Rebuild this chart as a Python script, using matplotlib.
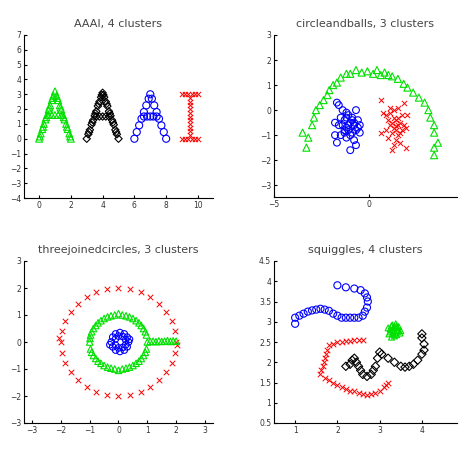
import matplotlib
matplotlib.use("Agg")
import matplotlib.pyplot as plt

# ---- AAAI ----
aaai_green_x = [0.0,0.1,0.2,0.3,0.4,0.5,0.6,0.7,0.8,0.9,1.0,1.1,1.2,1.3,1.4,1.5,1.6,1.7,1.8,1.9,2.0,0.6,0.8,1.0,1.2,1.4,0.05,0.25,0.45,0.65,0.85,1.15,1.35,1.55,1.75,1.95]
aaai_green_y = [0.0,0.35,0.65,1.0,1.3,1.6,1.95,2.25,2.6,2.9,3.2,2.9,2.6,2.25,1.95,1.6,1.3,1.0,0.65,0.35,0.0,1.6,1.6,1.6,1.6,1.6,0.15,0.8,1.45,2.1,2.75,2.75,2.1,1.45,0.8,0.15]
aaai_black_x = [3.0,3.1,3.2,3.3,3.4,3.5,3.6,3.7,3.8,3.9,4.0,4.1,4.2,4.3,4.4,4.5,4.6,4.7,4.8,4.9,5.0,3.6,3.8,4.0,4.2,4.4,3.15,3.35,3.55,3.75,3.95,4.05,4.25,4.45,4.65,4.85]
aaai_black_y = [0.0,0.3,0.6,0.95,1.25,1.55,1.85,2.2,2.5,2.8,3.1,2.8,2.5,2.2,1.85,1.55,1.25,0.95,0.6,0.3,0.0,1.5,1.5,1.5,1.5,1.5,0.45,1.1,1.7,2.35,2.95,2.95,2.35,1.7,1.1,0.45]
aaai_blue_x = [6.0,6.15,6.3,6.45,6.6,6.75,6.9,7.0,7.1,7.25,7.4,7.55,7.7,7.85,8.0,6.6,6.8,7.0,7.2,7.4]
aaai_blue_y = [0.0,0.45,0.9,1.35,1.8,2.25,2.7,3.0,2.7,2.25,1.8,1.35,0.9,0.45,0.0,1.5,1.5,1.5,1.5,1.5]
aaai_red_x = [9.0,9.2,9.4,9.6,9.8,10.0,9.0,9.2,9.4,9.6,9.8,10.0,9.5,9.5,9.5,9.5,9.5,9.5,9.5,9.5,9.5,9.5,9.5]
aaai_red_y = [3.0,3.0,3.0,3.0,3.0,3.0,0.0,0.0,0.0,0.0,0.0,0.0,0.25,0.5,0.75,1.0,1.25,1.5,1.75,2.0,2.25,2.5,2.75]

# ---- circleandballs ----
cb_green_x = [-3.3,-3.5,-3.2,-3.0,-2.9,-2.8,-2.6,-2.4,-2.2,-2.1,-1.9,-1.7,-1.5,-1.2,-1.0,-0.7,-0.4,-0.1,0.2,0.4,0.6,0.8,1.0,1.2,1.5,1.8,2.0,2.3,2.6,2.9,3.1,3.2,3.4,3.4,3.6,3.4,3.4]
cb_green_y = [-1.5,-0.9,-1.1,-0.6,-0.3,0.0,0.2,0.4,0.6,0.8,1.0,1.1,1.3,1.45,1.45,1.6,1.5,1.55,1.45,1.6,1.4,1.5,1.4,1.35,1.25,1.05,0.9,0.7,0.5,0.3,0.0,-0.3,-0.6,-0.9,-1.3,-1.5,-1.8]
cb_blue_x = [-1.7,-1.6,-1.4,-1.2,-0.7,-1.8,-1.5,-1.3,-1.1,-0.9,-0.8,-0.6,-1.4,-1.2,-1.0,-0.8,-0.6,-0.5,-1.6,-1.3,-1.1,-0.9,-0.7,-1.5,-1.2,-1.0,-0.8,-1.8,-1.1,-0.9,-1.7,-0.7,-1.0,-1.3,-0.5,-1.2]
cb_blue_y = [0.3,0.2,0.0,-0.1,0.0,-0.5,-0.3,-0.4,-0.2,-0.3,-0.5,-0.4,-0.6,-0.7,-0.5,-0.6,-0.7,-0.6,-0.6,-0.9,-0.8,-0.9,-0.8,-1.0,-1.1,-1.0,-1.2,-1.0,-0.6,-0.4,-1.3,-1.4,-1.6,-0.8,-0.9,-0.3]
cb_red_x = [0.6,1.5,1.3,1.8,2.0,0.7,0.9,1.1,1.3,1.0,1.2,1.4,1.6,1.8,1.1,1.3,1.5,1.7,1.9,0.9,1.2,1.4,1.6,0.6,1.0,1.5,1.4,1.6,1.3,1.9,1.2,1.5,1.7,1.1,1.4]
cb_red_y = [0.4,0.1,0.0,0.3,-0.2,-0.1,-0.2,-0.1,-0.3,-0.4,-0.5,-0.4,-0.5,-0.6,-0.6,-0.7,-0.6,-0.8,-0.7,-0.8,-0.9,-0.8,-0.9,-0.9,-1.1,-1.0,-1.2,-1.3,-1.4,-1.5,-1.6,-0.3,-0.2,0.1,-0.65]

# ---- threejoinedcircles ----
tj_red_x = [2.0,1.96,1.85,1.66,1.41,1.11,0.77,0.39,0.0,-0.39,-0.77,-1.11,-1.41,-1.66,-1.85,-1.96,-2.0,-1.96,-1.85,-1.66,-1.41,-1.11,-0.77,-0.39,0.0,0.39,0.77,1.11,1.41,1.66,1.85,1.96,-2.05,2.02]
tj_red_y = [0.0,0.39,0.77,1.11,1.41,1.66,1.85,1.96,2.0,1.96,1.85,1.66,1.41,1.11,0.77,0.39,0.0,-0.39,-0.77,-1.11,-1.41,-1.66,-1.85,-1.96,-2.0,-1.96,-1.85,-1.66,-1.41,-1.11,-0.77,-0.39,0.15,-0.1]
tj_green_x = [1.0,0.97,0.87,0.71,0.5,0.26,0.0,-0.26,-0.5,-0.71,-0.87,-0.97,-1.0,-0.97,-0.87,-0.71,-0.5,-0.26,0.0,0.26,0.5,0.71,0.87,0.97,0.93,0.79,0.61,0.38,0.13,-0.13,-0.38,-0.61,-0.79,-0.93,-0.99,-0.93,-0.79,-0.61,-0.38,-0.13,0.13,0.38,0.61,0.79,0.93,1.1,1.2,1.3,1.4,1.5,1.6,1.7,1.8,1.9,2.0]
tj_green_y = [0.0,0.26,0.5,0.71,0.87,0.97,1.05,0.97,0.87,0.71,0.5,0.26,0.0,-0.26,-0.5,-0.71,-0.87,-0.97,-1.05,-0.97,-0.87,-0.71,-0.5,-0.26,0.38,0.61,0.79,0.93,1.0,1.0,0.93,0.79,0.61,0.38,0.13,-0.38,-0.61,-0.79,-0.93,-1.0,-1.0,-0.93,-0.79,-0.61,-0.38,0.02,0.03,0.01,0.04,0.02,0.03,0.05,0.02,0.04,0.03]
tj_blue_x = [0.35,0.3,0.2,0.05,-0.1,-0.2,-0.25,-0.2,-0.1,0.05,0.2,0.3,0.25,0.15,0.0,-0.1,-0.1,0.0,0.15,0.25,0.38,-0.3]
tj_blue_y = [0.0,0.18,0.3,0.35,0.3,0.18,0.0,-0.18,-0.3,-0.35,-0.3,-0.18,0.08,0.2,0.22,0.12,-0.12,-0.22,-0.2,-0.1,0.1,-0.1]

# ---- squiggles ----
sq_blue_x = [1.0,1.0,1.1,1.2,1.3,1.4,1.5,1.6,1.7,1.8,1.9,2.0,2.1,2.2,2.3,2.4,2.5,2.6,2.65,2.7,2.72,2.7,2.65,2.55,2.4,2.2,2.0]
sq_blue_y = [2.95,3.1,3.15,3.2,3.25,3.28,3.3,3.32,3.3,3.27,3.2,3.15,3.1,3.1,3.1,3.1,3.1,3.15,3.25,3.35,3.5,3.6,3.7,3.78,3.82,3.85,3.9]
sq_red_x = [2.6,2.5,2.4,2.3,2.2,2.1,2.0,1.9,1.8,1.75,1.72,1.7,1.68,1.65,1.62,1.6,1.7,1.8,1.9,2.0,2.1,2.2,2.3,2.4,2.5,2.6,2.7,2.8,2.9,3.0,3.1,3.15,3.2]
sq_red_y = [2.55,2.55,2.55,2.53,2.52,2.5,2.5,2.45,2.42,2.3,2.2,2.1,2.0,1.9,1.8,1.7,1.6,1.55,1.5,1.45,1.4,1.35,1.3,1.28,1.25,1.22,1.2,1.22,1.25,1.3,1.38,1.45,1.5]
sq_black_x = [2.2,2.3,2.35,2.4,2.45,2.5,2.55,2.6,2.7,2.8,2.85,2.9,2.95,3.0,3.05,3.2,3.35,3.5,3.6,3.7,3.8,3.9,4.0,4.05,4.05,4.0,4.0]
sq_black_y = [1.9,1.95,2.05,2.1,2.0,1.9,1.8,1.7,1.65,1.7,1.8,1.9,2.1,2.25,2.2,2.1,2.0,1.9,1.88,1.9,1.95,2.05,2.2,2.3,2.45,2.6,2.7]
sq_green_x = [3.3,3.35,3.4,3.25,3.45,3.3,3.38,3.42,3.2,3.28,3.5,3.35,3.4,3.22,3.32,3.45,3.3,3.37,3.25,3.48,3.33,3.4,3.28]
sq_green_y = [2.8,2.85,2.9,2.75,2.8,2.7,2.95,2.75,2.85,2.9,2.78,2.65,2.85,2.7,2.78,2.88,2.92,2.72,2.82,2.72,2.86,2.68,2.62]

GREEN, BLUE, RED, BLACK = "#00e000", "#0000ff", "#ff0000", "#000000"
TXT = "#333333"

fig = plt.figure(figsize=(4.74, 4.55), dpi=100)

def setup(ax, title, xlim, ylim, xt, yt, ytl=None):
    ax.set_xlim(*xlim); ax.set_ylim(*ylim)
    ax.set_xticks(xt); ax.set_yticks(yt)
    if ytl is not None:
        ax.set_yticklabels(ytl)
    ax.set_title(title, fontsize=8, color="#444444", pad=6)
    for s in ("top", "right"):
        ax.spines[s].set_visible(False)
    for s in ("left", "bottom"):
        ax.spines[s].set_linewidth(0.8)
    ax.tick_params(direction="in", length=2, labelsize=5.5, labelcolor=TXT, pad=2)

def hollow(ax, x, y, m, c, s=22):
    if m == "x":
        ax.scatter(x, y, marker="x", c=c, s=s, linewidths=0.7)
    else:
        ax.scatter(x, y, marker=m, facecolors="none", edgecolors=c, s=s, linewidths=0.8)

ax1 = fig.add_axes([24/474, 1-198/455, 189/474, 163/455])
hollow(ax1, aaai_green_x, aaai_green_y, "^", GREEN, 24)
hollow(ax1, aaai_black_x, aaai_black_y, "D", BLACK, 14)
hollow(ax1, aaai_blue_x, aaai_blue_y, "o", BLUE, 26)
hollow(ax1, aaai_red_x, aaai_red_y, "x", RED, 14)
setup(ax1, "AAAI, 4 clusters", (-0.95, 10.95), (-4, 7), [0, 2, 4, 6, 8, 10], list(range(-4, 8)))

ax2 = fig.add_axes([274/474, 1-197/455, 183/474, 162/455])
hollow(ax2, cb_green_x, cb_green_y, "^", GREEN, 26)
hollow(ax2, cb_blue_x, cb_blue_y, "o", BLUE, 24)
hollow(ax2, cb_red_x, cb_red_y, "x", RED, 14)
setup(ax2, "circleandballs, 3 clusters", (-5, 4.6), (-3.47, 3), [-5, 0], list(range(-3, 4)))

ax3 = fig.add_axes([24/474, 1-423/455, 189/474, 162/455])
hollow(ax3, tj_red_x, tj_red_y, "x", RED, 16)
hollow(ax3, tj_green_x, tj_green_y, "^", GREEN, 22)
hollow(ax3, tj_blue_x, tj_blue_y, "o", BLUE, 22)
setup(ax3, "threejoinedcircles, 3 clusters", (-3.28, 3.28), (-3, 3), list(range(-3, 4)), list(range(-3, 4)))

ax4 = fig.add_axes([274/474, 1-423/455, 183/474, 162/455])
hollow(ax4, sq_blue_x, sq_blue_y, "o", BLUE, 26)
hollow(ax4, sq_red_x, sq_red_y, "x", RED, 16)
hollow(ax4, sq_black_x, sq_black_y, "D", BLACK, 18)
hollow(ax4, sq_green_x, sq_green_y, "^", GREEN, 18)
setup(ax4, "squiggles, 4 clusters", (0.5, 4.83), (0.5, 4.5), [1, 2, 3, 4],
      [0.5, 1, 1.5, 2, 2.5, 3, 3.5, 4, 4.5], ["0.5", "1", "1.5", "2", "2.5", "3", "3.5", "4", "4.5"])

fig.savefig("out.png", dpi=100)
